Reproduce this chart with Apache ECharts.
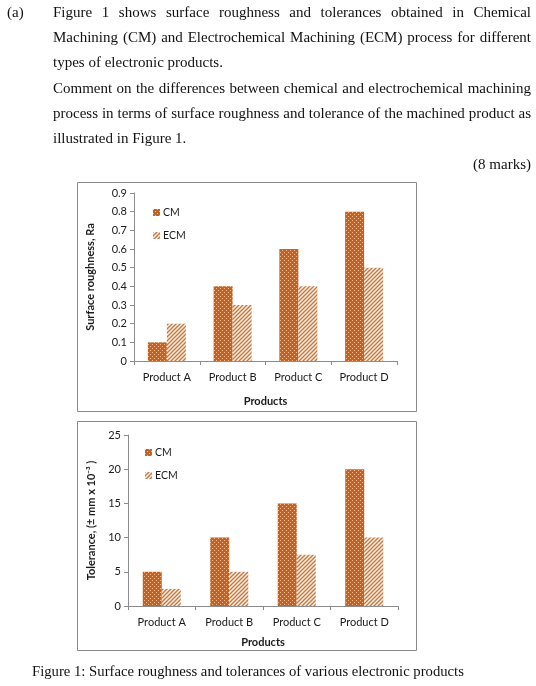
<!DOCTYPE html>
<html><head><meta charset="utf-8">
<script src="https://cdn.jsdelivr.net/npm/echarts@6/dist/echarts.min.js"></script>
<style>html,body{margin:0;padding:0;background:#fff}#c{width:536px;height:686px}</style>
</head><body><div id="c"></div>
<script>
// ---- data ----
const categories = ['Product A', 'Product B', 'Product C', 'Product D'];
const roughnessCM = [0.1, 0.4, 0.6, 0.8];
const roughnessECM = [0.2, 0.3, 0.4, 0.5];
const toleranceCM = [5, 10, 15, 20];
const toleranceECM = [2.5, 5, 7.5, 10];
const seriesNames = ['CM', 'ECM'];

const questionLines = [
  {text: 'Figure 1 shows surface roughness and tolerances obtained in Chemical', justify: true},
  {text: 'Machining (CM) and Electrochemical Machining (ECM) process for different', justify: true},
  {text: 'types of electronic products.', justify: false},
  {text: 'Comment on the differences between chemical and electrochemical machining', justify: true},
  {text: 'process in terms of surface roughness and tolerance of the machined product as', justify: true},
  {text: 'illustrated in Figure 1.', justify: false}
];
const marksText = '(8 marks)';
const partLabel = '(a)';
const captionText = 'Figure 1: Surface roughness and tolerances of various electronic products';

// ---- patterns ----
function cmPattern() {
  const c = document.createElement('canvas'); c.width = 4; c.height = 4;
  const g = c.getContext('2d');
  g.fillStyle = '#BF632A'; g.fillRect(0, 0, 4, 4);
  g.fillStyle = '#F2B98A';
  g.fillRect(0, 0, 1, 1); g.fillRect(2, 2, 1, 1);
  return c;
}
function ecmPattern() {
  const c = document.createElement('canvas'); c.width = 4; c.height = 4;
  const g = c.getContext('2d');
  g.fillStyle = '#FBF1E8'; g.fillRect(0, 0, 4, 4);
  g.strokeStyle = '#C8743C'; g.lineWidth = 1.3;
  g.beginPath();
  g.moveTo(-1, 5); g.lineTo(5, -1);
  g.moveTo(-1, 1); g.lineTo(1, -1);
  g.moveTo(3, 5); g.lineTo(5, 3);
  g.stroke();
  return c;
}
const cmColor = {image: cmPattern(), repeat: 'repeat'};
const ecmColor = {image: ecmPattern(), repeat: 'repeat'};

// ---- text helpers ----
const serif = '"Liberation Serif", "Times New Roman", serif';
const measure = document.createElement('canvas').getContext('2d');
measure.font = '15px ' + serif;
function txt(text, x, y, size, align) {
  return {type: 'text', x: x, y: y, style: {text: text, fontFamily: serif, fontSize: size, fill: '#111', align: align || 'left', verticalAlign: 'middle'}};
}
function lineElements(line, x0, x1, y) {
  if (!line.justify) return [txt(line.text, x0, y, 15)];
  const words = line.text.split(' ');
  const widths = words.map(w => measure.measureText(w).width);
  const total = widths.reduce((a, b) => a + b, 0);
  const gap = (x1 - x0 - total) / (words.length - 1);
  const els = [];
  let x = x0;
  words.forEach((w, i) => { els.push(txt(w, x, y, 15)); x += widths[i] + gap; });
  return els;
}
const lineY = [13, 38, 63, 89, 114, 139];
let graphics = [txt(partLabel, 7, 13, 15)];
questionLines.forEach((l, i) => { graphics = graphics.concat(lineElements(l, 53, 531, lineY[i])); });
graphics.push(txt(marksText, 531, 165, 15, 'right'));
graphics.push(txt(captionText, 32, 672, 14.7));
graphics.push({type: 'rect', shape: {x: 77.5, y: 182.5, width: 339, height: 229}, style: {fill: 'none', stroke: '#8a8a8a', lineWidth: 1}, z: 0});
graphics.push({type: 'rect', shape: {x: 77.5, y: 421.5, width: 339, height: 229}, style: {fill: 'none', stroke: '#8a8a8a', lineWidth: 1}, z: 0});

const sans = 'Lato, "Open Sans", sans-serif';
const axisGray = '#8c8c8c';
function xAxisCfg(gridIndex, nameGap) {
  return {
    type: 'category', gridIndex, data: categories,
    name: 'Products', nameLocation: 'middle', nameGap,
    nameTextStyle: {fontFamily: sans, fontSize: 11, fontWeight: 'bold', color: '#1a1a1a'},
    axisLine: {lineStyle: {color: axisGray}},
    axisTick: {show: true, length: 4, lineStyle: {color: axisGray}},
    axisLabel: {fontFamily: sans, fontSize: 11, color: '#1a1a1a', margin: 11}
  };
}
function yAxisCfg(gridIndex, max, interval, name, nameGap, fmt) {
  return {
    type: 'value', gridIndex, min: 0, max, interval,
    name, nameLocation: 'middle', nameGap, nameRotate: 90,
    nameTextStyle: {fontFamily: sans, fontSize: 11, fontWeight: 'bold', color: '#1a1a1a'},
    axisLine: {show: true, lineStyle: {color: axisGray}},
    axisTick: {show: true, length: 4, lineStyle: {color: axisGray}},
    splitLine: {show: false},
    axisLabel: {fontFamily: sans, fontSize: 11, color: '#1a1a1a', margin: 7, formatter: fmt}
  };
}
function barSeries(name, data, idx, color) {
  return {
    type: 'bar', name, data, xAxisIndex: idx, yAxisIndex: idx,
    barWidth: 19, barGap: '0%',
    itemStyle: {color},
    emphasis: {disabled: true}
  };
}
function legendCfg(left, top) {
  return {
    data: seriesNames, orient: 'vertical', left, top, itemGap: 12,
    itemWidth: 7, itemHeight: 7, icon: 'rect',
    textStyle: {fontFamily: sans, fontSize: 10.5, color: '#1a1a1a', padding: [0, 0, 0, -2]},
    selectedMode: false
  };
}

const chart = echarts.init(document.getElementById('c'), null, {renderer: 'canvas'});
chart.setOption({
  animation: false,
  backgroundColor: '#fff',
  grid: [
    {left: 134, top: 193, width: 263, height: 168},
    {left: 128, top: 435, width: 270, height: 171}
  ],
  xAxis: [xAxisCfg(0, 35), xAxisCfg(1, 31)],
  yAxis: [
    yAxisCfg(0, 0.9, 0.1, 'Surface roughness, Ra', 38, v => (v === 0 ? '0' : v.toFixed(1))),
    yAxisCfg(1, 25, 5, 'Tolerance, (\u00b1 mm x 10\u207b\u00b3 )', 30, v => String(v))
  ],
  legend: [legendCfg(148, 202), legendCfg(140, 442)],
  series: [
    barSeries('CM', roughnessCM, 0, cmColor),
    barSeries('ECM', roughnessECM, 0, ecmColor),
    barSeries('CM', toleranceCM, 1, cmColor),
    barSeries('ECM', toleranceECM, 1, ecmColor)
  ],
  graphic: graphics
});
</script></body></html>
